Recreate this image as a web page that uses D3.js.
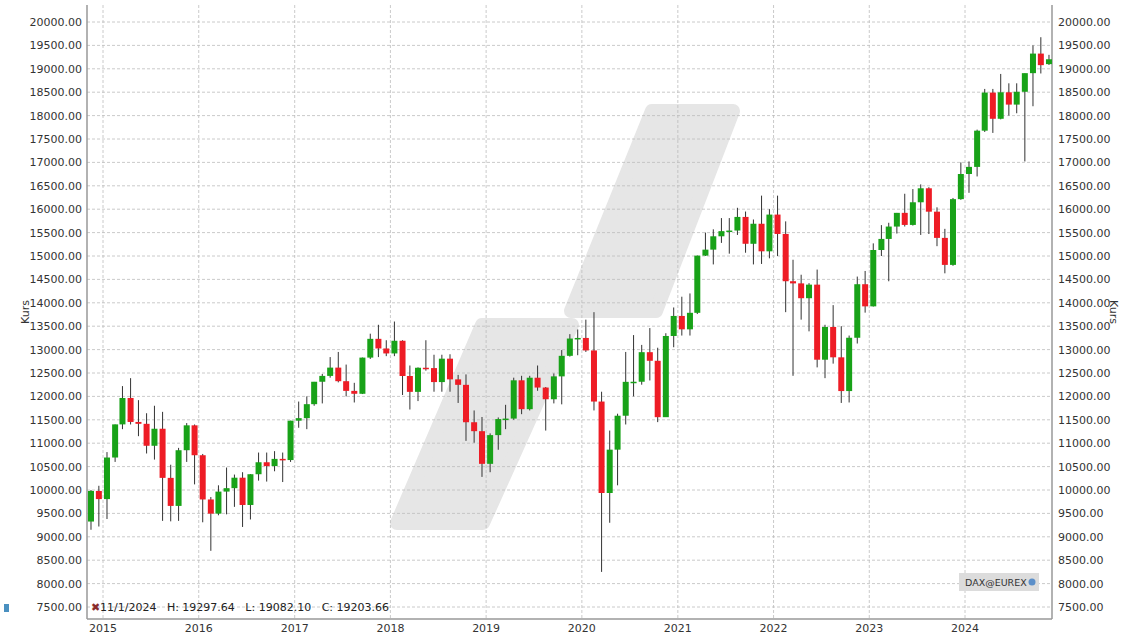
<!DOCTYPE html>
<html><head><meta charset="utf-8">
<script src="https://cdn.jsdelivr.net/npm/d3@7"></script>
<style>body{margin:0;background:#fff}svg{font-family:"DejaVu Sans",Arial,sans-serif}</style>
</head><body><svg id="c" width="1128" height="635"></svg>
<script>
const startMonth = "2014-11";
const opens  = [9326,9980,9806,10694,11402,11966,11454,11414,10945,11309,10259,9660,10850,11382,10743,9798,9495,9966,10039,10263,9680,10337,10593,10511,10665,10640,11481,11535,11834,12313,12438,12615,12325,12118,12056,12829,13230,13024,12918,13189,12436,12097,12612,12605,12306,12806,12364,12247,11448,11257,10559,11173,11516,11526,12344,11727,12399,12189,11939,12428,12867,13236,13249,12982,11890,9936,10862,11587,12311,12313,12945,12761,11556,13291,13719,13433,13786,15008,15136,15421,15531,15544,15835,15261,15689,15100,15885,15471,14461,14415,14098,14388,12784,13484,12835,12114,13253,14397,13924,15128,15365,15629,15922,15664,16148,16447,15947,15387,14810,16215,16752,16904,17678,18492,17932,18498,18235,18509,18907,19325,19100];
const highs  = [10000,10090,10810,11400,12220,12390,11920,11640,11800,11670,10540,10900,11430,11400,10770,9850,10100,10480,10330,10380,10340,10800,10800,10830,10800,11480,11890,12000,12310,12480,12840,12950,12680,12290,12830,13340,13530,13200,13600,13200,12660,12620,13200,12890,12890,12900,12460,12470,11700,11560,11210,11550,11820,12400,12440,12440,12660,12200,12490,12990,13330,13430,13640,13800,12100,11270,11630,12950,13310,13100,13460,13040,13350,13900,14130,14200,15010,15500,15570,15810,15810,16030,15950,15780,16290,16000,16290,15740,14920,14600,14420,14710,13530,13950,13500,13300,14560,14680,15270,15660,15710,15920,16330,16430,16530,16470,16040,15580,16240,17000,17020,17700,18570,18570,18890,18690,18690,18900,19500,19675,19298];
const lows   = [9150,9220,9380,10600,11300,11400,11150,10780,10650,9340,9330,9340,10600,10120,9310,8700,9460,9480,9640,9210,9370,10200,10180,10400,10170,10600,11330,11300,11800,11850,12400,12300,12000,11870,12050,12800,12840,12860,12860,12030,11720,11900,12550,12100,12100,12100,11860,11050,11010,10280,10380,10860,11300,11500,11620,11700,12120,11270,11850,11830,12850,12880,12950,11700,8250,9300,10100,11400,12000,12250,12340,11450,11560,13050,13300,13300,13760,15000,14820,15280,15050,15450,15070,14820,14830,14950,15000,13800,12440,13640,13390,12620,12390,12700,11860,11870,13130,13790,13920,15000,14460,15480,15630,15650,15450,15470,15210,14630,14790,16200,16350,16700,17650,17630,17920,18000,18050,17020,18200,18900,19082];
const closes = [9980,9806,10694,11402,11966,11454,11414,10945,11309,10259,9660,10850,11382,10743,9798,9495,9966,10039,10263,9680,10337,10593,10511,10665,10640,11481,11535,11834,12313,12438,12615,12325,12118,12056,12829,13230,13024,12918,13189,12436,12097,12612,12605,12306,12806,12364,12247,11448,11257,10559,11173,11516,11526,12344,11727,12399,12189,11939,12428,12867,13236,13249,12982,11890,9936,10862,11587,12311,12313,12945,12761,11556,13291,13719,13433,13786,15008,15136,15421,15531,15544,15835,15261,15689,15100,15885,15471,14461,14415,14098,14388,12784,13484,12835,12114,13253,14397,13924,15128,15365,15629,15922,15664,16148,16447,15947,15387,14810,16215,16752,16904,17678,18492,17932,18498,18235,18509,18907,19325,19078,19204];
const yTicks = d3.range(7500,20001,500);
const yearTicks = d3.range(2015,2025);
const infoText = "11/1/2024   H: 19297.64   L: 19082.10   C: 19203.66";
const axisLabel = "Kurs";
const sourceLabel = "DAX@EUREX";

const svg = d3.select("#c");
const L=87,R=1052,T=5,B=619;
const p0 = d3.timeParse("%Y-%m")(startMonth);
const data = opens.map((o,i)=>({d:d3.timeMonth.offset(p0,i),o,h:highs[i],l:lows[i],c:closes[i]}));
const x = d3.scaleTime().domain([new Date(2015,0,1),new Date(2024,0,1)]).range([103,965]);
const y = d3.scaleLinear().domain([7500,20000]).range([607,22]);
const mid = d=>x(new Date(d.getTime()+15.2*864e5));

// watermark
const wm=svg.append("g").attr("fill","#e6e6e6").attr("stroke","#e6e6e6").attr("stroke-width",14).attr("stroke-linejoin","round");
wm.append("polygon").attr("points","652,111 733,111 656,311 571,311");
wm.append("polygon").attr("points","482,325 572,325 483,523 397,523");

// grid
const g=svg.append("g").attr("stroke","#bdbdbd").attr("stroke-dasharray","3,2").attr("stroke-width",0.8);
yTicks.forEach(v=>g.append("line").attr("x1",L).attr("x2",R).attr("y1",y(v)).attr("y2",y(v)));
yearTicks.forEach(v=>{const xx=x(new Date(v,0,1));g.append("line").attr("x1",xx).attr("x2",xx).attr("y1",T).attr("y2",B);});

// frame
svg.append("line").attr("x1",L).attr("x2",L).attr("y1",T).attr("y2",B).attr("stroke","#999").attr("stroke-width",1.5);
svg.append("line").attr("x1",R).attr("x2",R).attr("y1",T).attr("y2",B).attr("stroke","#999").attr("stroke-width",1.5);
svg.append("line").attr("x1",L).attr("x2",R).attr("y1",B).attr("y2",B).attr("stroke","#999").attr("stroke-width",1.5);

// axes
const ay=svg.append("g").attr("font-size",11).attr("fill","#333");
yTicks.forEach(v=>{
  ay.append("text").attr("x",L-5).attr("y",y(v)+4).attr("text-anchor","end").text(v.toFixed(2));
  ay.append("text").attr("x",R+6).attr("y",y(v)+4).text(v.toFixed(2));
});
yearTicks.forEach(v=>ay.append("text").attr("x",x(new Date(v,0,1))).attr("y",B+13).attr("text-anchor","middle").text(v));
ay.append("text").attr("transform",`translate(29,312) rotate(-90)`).attr("text-anchor","middle").text(axisLabel);
ay.append("text").attr("transform",`translate(1110,312) rotate(90)`).attr("text-anchor","middle").text(axisLabel);

// candles
const cg=svg.append("g");
data.forEach(d=>{
  const xx=mid(d.d), up=d.c>=d.o;
  cg.append("line").attr("x1",xx).attr("x2",xx).attr("y1",y(d.h)).attr("y2",y(d.l)).attr("stroke","#333").attr("stroke-width",1);
  const top=y(Math.max(d.o,d.c)), h=Math.max(1.5,Math.abs(y(d.o)-y(d.c)));
  cg.append("rect").attr("x",xx-3).attr("width",6).attr("y",top).attr("height",h)
    .attr("fill",up?"#18a218":"#ee1c25");
});

// info
svg.append("text").attr("x",91).attr("y",611).attr("font-size",11).attr("fill","#8b2b2b").text("✖");
svg.append("text").attr("x",100).attr("y",611).attr("font-size",11).attr("fill","#222").attr("xml:space","preserve").text(infoText);
svg.append("rect").attr("x",959).attr("y",573).attr("width",80).attr("height",18).attr("fill","#dcdcdc");
svg.append("text").attr("x",965).attr("y",586).attr("font-size",9.5).attr("fill","#333").text(sourceLabel);
svg.append("circle").attr("cx",1032).attr("cy",582).attr("r",3.5).attr("fill","#5b8fc9");
svg.append("rect").attr("x",4).attr("y",604).attr("width",5).attr("height",8).attr("fill","#4a90c0");
</script></body></html>
